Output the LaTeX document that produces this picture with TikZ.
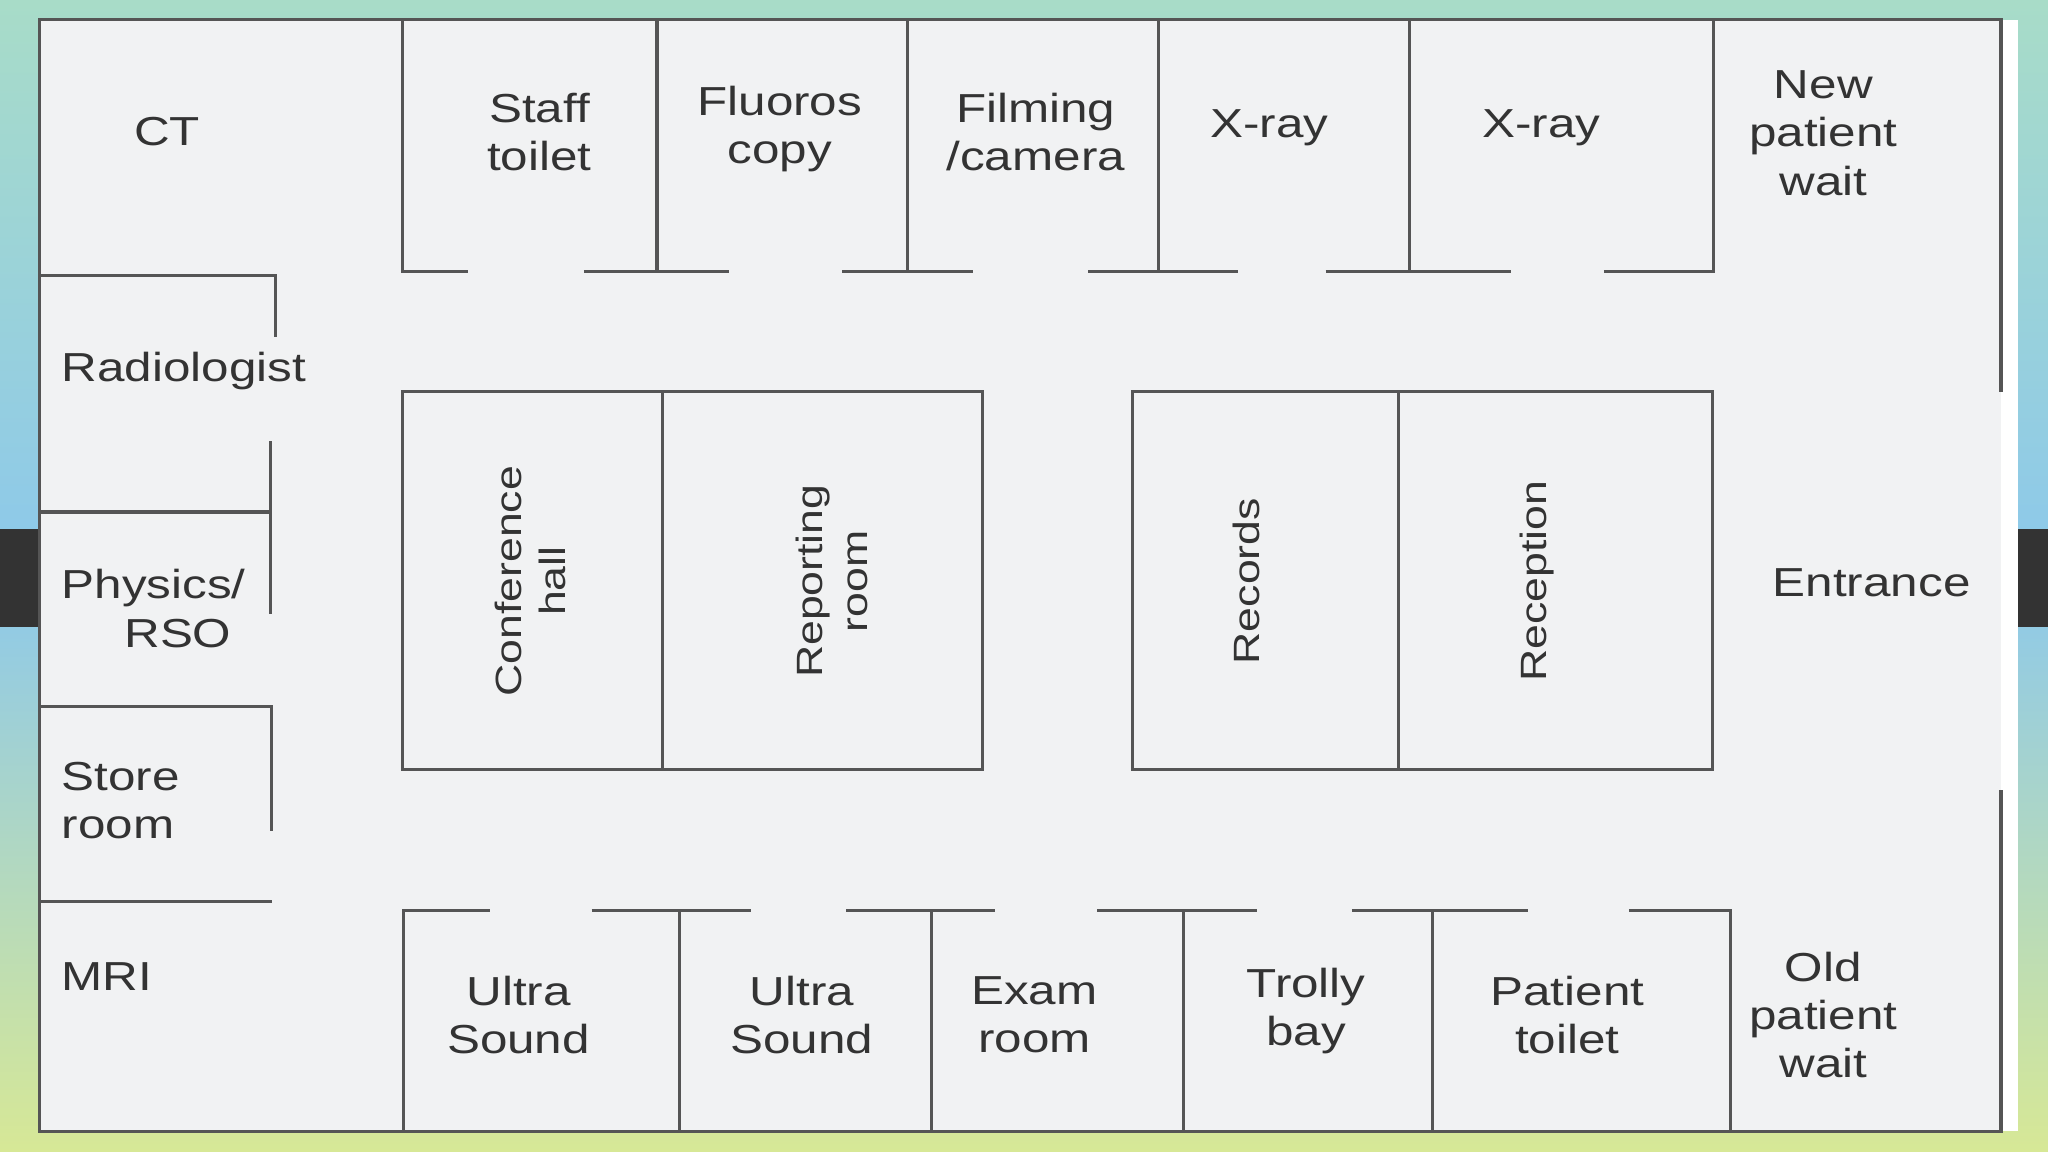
\documentclass[tikz,border=0pt]{standalone}
\usepackage{fontspec}
\setmainfont{Liberation Sans}[FakeStretch=1.22]
\definecolor{wall}{HTML}{555555}
\definecolor{floor}{HTML}{F1F2F3}
\begin{document}
\begin{tikzpicture}[x=1pt,y=-1pt,
  w/.style={draw=wall,line width=2.4pt},
  lab/.style={font=\fontsize{31}{37}\selectfont,text=black!80,align=center,inner sep=0pt},
  rlab/.style={lab,rotate=90,font=\fontsize{28}{34}\selectfont}]
\useasboundingbox (0,0) rectangle (1568,882);
\shade[top color={rgb,255:red,168;green,220;blue,200}, bottom color={rgb,255:red,140;green,200;blue,235}] (0,0) rectangle (1568,441);
\shade[top color={rgb,255:red,140;green,200;blue,235}, bottom color={rgb,255:red,215;green,232;blue,150}] (0,441) rectangle (1568,882);
\fill[black!80] (0,405) rectangle (30,480);
\fill[black!80] (1540,405) rectangle (1568,480);
\fill[white] (1528,15) rectangle (1545,866);
\fill[floor] (30,15) rectangle (1532,866);
% outer walls
\draw[w] (1532,300) -- (1532,15) -- (30,15) -- (30,866) -- (1532,866) -- (1532,605);
% top row
\draw[w] (308,15) -- (308,208) -- (358,208);
\draw[w] (447,208) -- (558,208); \draw[w] (503,15) -- (503,208);
\draw[w] (645,208) -- (745,208); \draw[w] (695,15) -- (695,208);
\draw[w] (833,208) -- (948,208); \draw[w] (887,15) -- (887,208);
\draw[w] (1015,208) -- (1157,208); \draw[w] (1079,15) -- (1079,208);
\draw[w] (1228,208) -- (1312,208) -- (1312,15);
% left rooms
\draw[w] (30,211) -- (211,211) -- (211,258);
\draw[w] (207,338) -- (207,470);
\draw[w] (30,392) -- (207,392);
\draw[w] (30,541) -- (208,541) -- (208,636);
\draw[w] (30,690) -- (208,690);
% center blocks
\draw[w] (308,300) rectangle (752,589); \draw[w] (507,300) -- (507,589);
\draw[w] (867,300) rectangle (1311,589); \draw[w] (1071,300) -- (1071,589);
% bottom row
\draw[w] (309,866) -- (309,697) -- (375,697);
\draw[w] (453,697) -- (575,697); \draw[w] (520,697) -- (520,866);
\draw[w] (648,697) -- (762,697); \draw[w] (713,697) -- (713,866);
\draw[w] (840,697) -- (962,697); \draw[w] (906,697) -- (906,866);
\draw[w] (1035,697) -- (1170,697); \draw[w] (1097,697) -- (1097,866);
\draw[w] (1247,697) -- (1325,697) -- (1325,866);
% labels
\node[lab] (ct) at (128,101) {CT};
\node[lab] (st) at (413,101) {Staff\\toilet};
\node[lab] (fl) at (597,99) {Fluoros\\copy};
\node[lab] (fi) at (793,101) {Filming\\/camera};
\node[lab] (x1) at (972,98) {X-ray};
\node[lab] (x2) at (1180,98) {X-ray};
\node[lab] (np) at (1396,102) {New\\patient\\wait};
\node[lab,anchor=west] (ra) at (47,284) {Radiologist};
\node[lab,anchor=west] (ph) at (47,466) {Physics/\\\hspace*{1.2em}RSO};
\node[lab,anchor=west,align=left] (sr) at (47,613) {Store\\room};
\node[lab,anchor=west] (mri) at (47,748) {MRI};
\node[rlab] (co) at (406,445) {Conference\\hall};
\node[rlab] (rr) at (637,445) {Reporting\\room};
\node[rlab] (rec) at (954,445) {Records};
\node[rlab] (rcp) at (1177,445) {Reception};
\node[lab] (en) at (1433,446) {Entrance};
\node[lab] (u1) at (397,777) {Ultra\\Sound};
\node[lab] (u2) at (614,777) {Ultra\\Sound};
\node[lab] (ex) at (792,777) {Exam\\room};
\node[lab] (tb) at (1000,774) {Trolly\\bay};
\node[lab] (pt) at (1200,777) {Patient\\toilet};
\node[lab] (op) at (1396,777) {Old\\patient\\wait};
\end{tikzpicture}
\end{document}
